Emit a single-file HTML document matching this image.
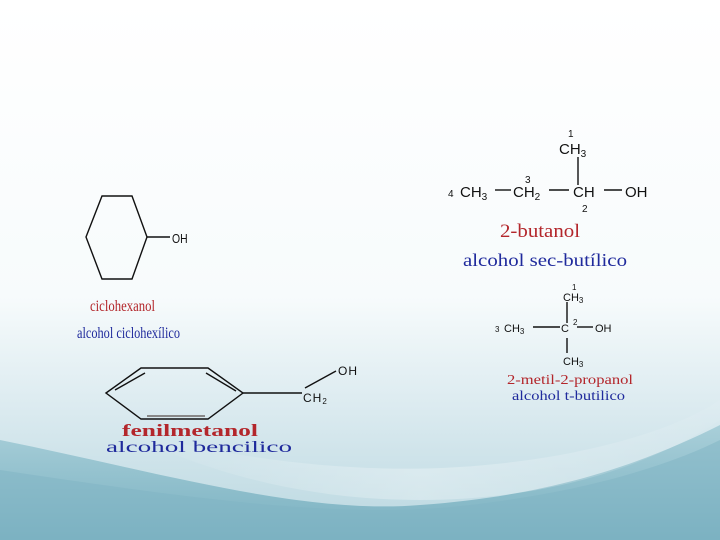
<!DOCTYPE html>
<html><head><meta charset="utf-8"><style>
html,body{margin:0;padding:0;width:720px;height:540px;overflow:hidden;background:#fff}
svg{display:block}
</style></head><body>
<svg width="720" height="540" viewBox="0 0 720 540" xmlns="http://www.w3.org/2000/svg">
<defs>
<linearGradient id="bg" x1="0" y1="0" x2="0" y2="1">
<stop offset="0" stop-color="#ffffff"/><stop offset="0.55" stop-color="#f7fbfc"/><stop offset="0.75" stop-color="#dcebf0"/><stop offset="1" stop-color="#b9d7e0"/></linearGradient>
<linearGradient id="w1" x1="0" y1="0" x2="0" y2="1">
<stop offset="0" stop-color="#a9cfd9"/><stop offset="1" stop-color="#78b0c0"/></linearGradient>
<linearGradient id="w2" x1="0" y1="0" x2="1" y2="0">
<stop offset="0" stop-color="#ffffff" stop-opacity="0"/><stop offset="0.5" stop-color="#ffffff" stop-opacity="0.3"/><stop offset="1" stop-color="#ffffff" stop-opacity="0.05"/></linearGradient>
</defs>
<rect width="720" height="540" fill="url(#bg)"/>
<path d="M0 440 C150 470 300 515 420 505 C560 495 650 460 720 425 L720 540 L0 540 Z" fill="url(#w1)"/>
<path d="M0 470 C200 500 350 520 470 505 C600 490 680 460 720 440 L720 540 L0 540Z" fill="#7fb4c4" opacity="0.5"/>
<path d="M120 430 C280 470 420 480 560 455 C640 440 690 420 720 400 L720 420 C660 460 560 500 420 500 C300 500 200 470 120 430Z" fill="url(#w2)"/>

<g stroke="#111" stroke-width="1.4" fill="none">
<polygon points="102,196 132,196 147,237 132,279 102,279 86,237"/>
<line x1="147" y1="237" x2="170" y2="237"/>
<polygon points="106,393 141,368 208,368 243,393 208,419 141,419"/>
<line x1="115" y1="390" x2="145" y2="373"/>
<line x1="206" y1="373" x2="236" y2="391"/>
<line x1="243" y1="393" x2="302" y2="393"/>
<line x1="305" y1="388" x2="336" y2="371"/>
<line x1="578" y1="157" x2="578" y2="185"/>
<line x1="495" y1="190" x2="511" y2="190"/>
<line x1="549" y1="190" x2="569" y2="190"/>
<line x1="604" y1="190" x2="622" y2="190"/>
<line x1="567" y1="302" x2="567" y2="323"/>
<line x1="533" y1="327" x2="560" y2="327"/>
<line x1="577" y1="327" x2="593" y2="327"/>
<line x1="567" y1="338" x2="567" y2="353"/>
</g>
<line x1="147" y1="416" x2="205" y2="416" stroke="#888" stroke-width="2"/>

<g font-family="Liberation Sans, sans-serif" fill="#111">
<text x="172" y="243" font-size="13" transform="translate(172 0) scale(0.8 1) translate(-172 0)">OH</text>
<text x="303" y="402" font-size="12" letter-spacing="1">CH<tspan font-size="8" dy="2">2</tspan></text>
<text x="338" y="375" font-size="12" letter-spacing="1">OH</text>

<text x="568" y="137" font-size="10">1</text>
<text x="559" y="154" font-size="15">CH<tspan font-size="10" dy="3">3</tspan></text>
<text x="448" y="197" font-size="10">4</text>
<text x="460" y="197" font-size="15">CH<tspan font-size="10" dy="3">3</tspan></text>
<text x="525" y="183" font-size="10">3</text>
<text x="513" y="197" font-size="15">CH<tspan font-size="10" dy="3">2</tspan></text>
<text x="573" y="197" font-size="15">CH</text>
<text x="582" y="212" font-size="10">2</text>
<text x="625" y="197" font-size="15">OH</text>

<text x="572" y="290" font-size="8">1</text>
<text x="563" y="301" font-size="11">CH<tspan font-size="8" dy="2">3</tspan></text>
<text x="495" y="332" font-size="8">3</text>
<text x="504" y="332" font-size="11">CH<tspan font-size="8" dy="2">3</tspan></text>
<text x="561" y="332" font-size="11">C</text>
<text x="573" y="325" font-size="8">2</text>
<text x="595" y="332" font-size="11">OH</text>
<text x="563" y="365" font-size="11">CH<tspan font-size="8" dy="2">3</tspan></text>
</g>

<g font-family="Liberation Serif, serif">
<text x="90" y="311" font-size="16" fill="#b3262b" textLength="65" lengthAdjust="spacingAndGlyphs">ciclohexanol</text>
<text x="77" y="338" font-size="16" fill="#1f2a9c" textLength="103" lengthAdjust="spacingAndGlyphs">alcohol ciclohexílico</text>
<text x="122" y="436" font-size="17" font-weight="bold" fill="#b3262b" textLength="136" lengthAdjust="spacingAndGlyphs">fenilmetanol</text>
<text x="106" y="452" font-size="16" fill="#1f2a9c" textLength="186" lengthAdjust="spacingAndGlyphs">alcohol bencilico</text>
<text x="500" y="237" font-size="19" fill="#b3262b" textLength="80" lengthAdjust="spacingAndGlyphs">2-butanol</text>
<text x="463" y="266" font-size="18" fill="#1f2a9c" textLength="164" lengthAdjust="spacingAndGlyphs">alcohol sec-butílico</text>
<text x="507" y="384" font-size="14" fill="#b3262b" textLength="126" lengthAdjust="spacingAndGlyphs">2-metil-2-propanol</text>
<text x="512" y="400" font-size="14" fill="#1f2a9c" textLength="113" lengthAdjust="spacingAndGlyphs">alcohol t-butilico</text>
</g>
</svg>
</body></html>
